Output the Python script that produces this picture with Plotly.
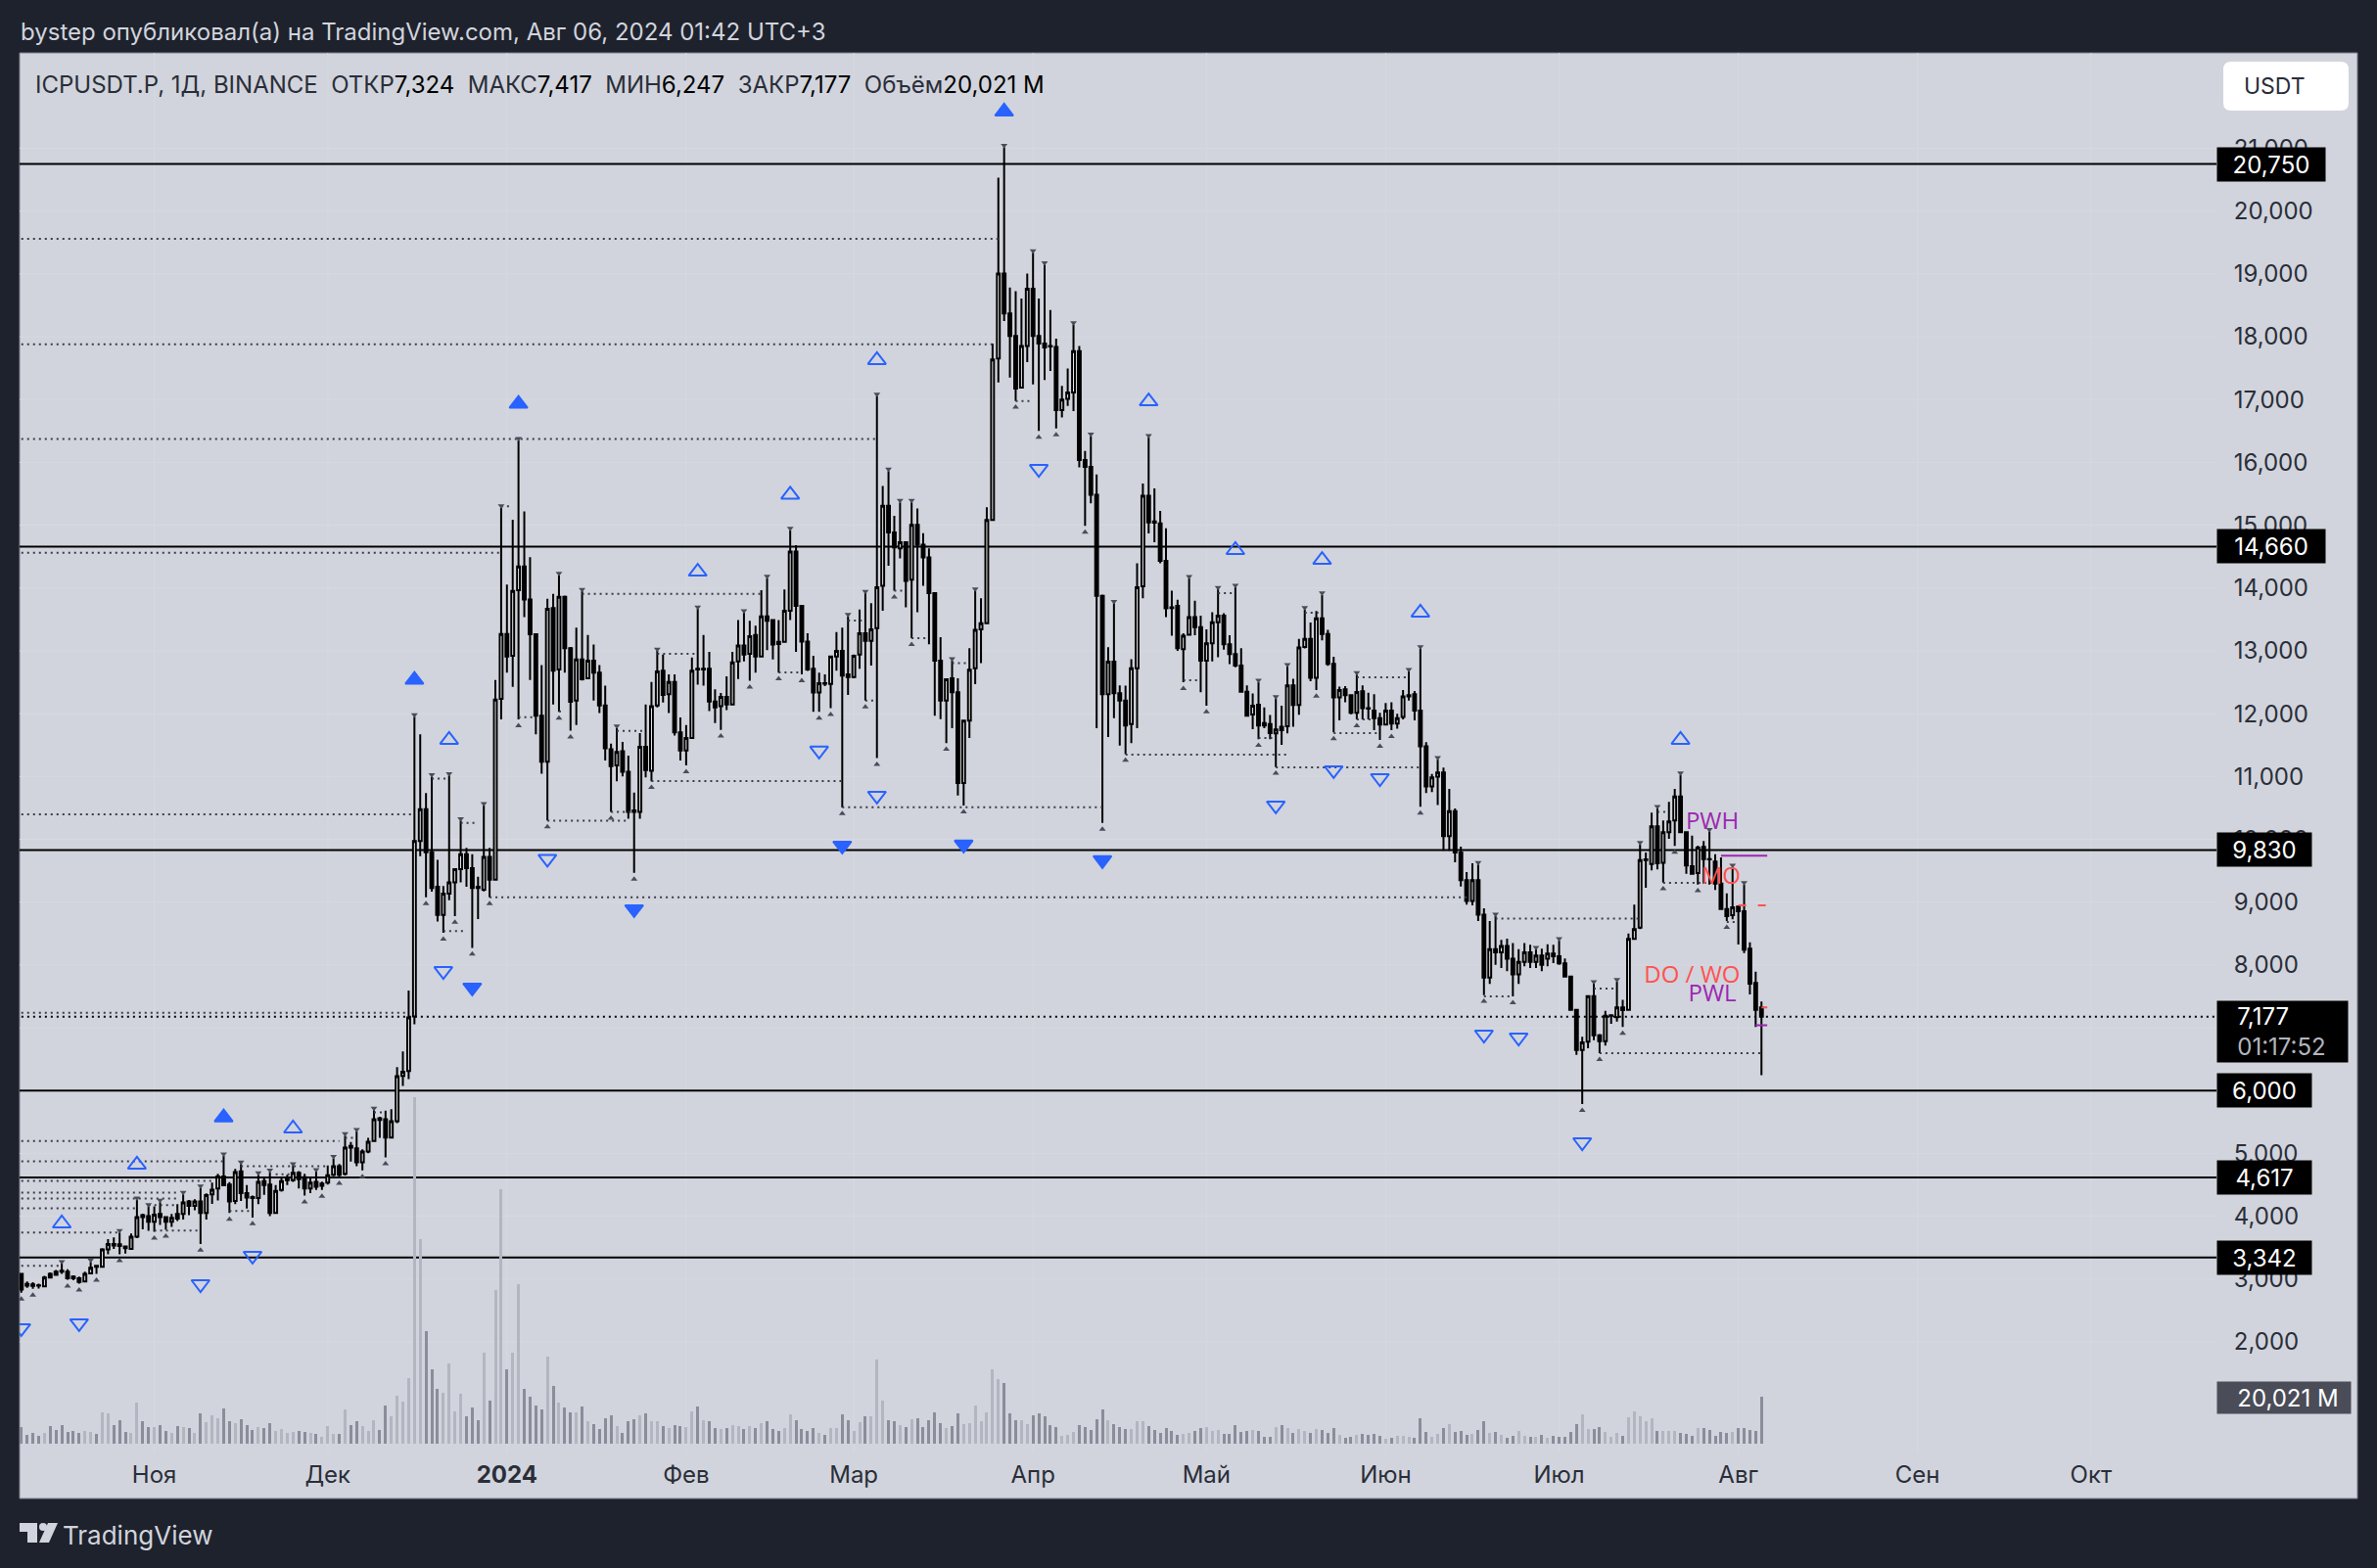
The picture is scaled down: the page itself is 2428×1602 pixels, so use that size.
import pandas as pd
import plotly.graph_objects as go

# daily bars, first visible bar is 2023-10-09, last one is the live 2024-08-05 bar
opens = [
    3082, 2921, 2915, 2900, 2885, 3082, 3118, 3134, 3118, 3040, 3014, 2962, 3092, 3212, 3196, 3471, 3559, 3554, 3518, 3481,
    3674, 4016, 4000, 3912, 4037, 3985, 3912, 4037, 4037, 4234, 4167, 4234, 4052, 4348, 4442, 4634, 4504, 4244, 4713, 4366,
    4306, 4288, 4558, 4506, 4054, 4418, 4573, 4573, 4693, 4620, 4443, 4547, 4485, 4537, 4661, 4796, 4677, 5118, 5082, 4859,
    5030, 5196, 5559, 5544, 5253, 5513, 6234, 6312, 7179, 9971, 10478, 9793, 9244, 8797, 9137, 9316, 9525, 9763, 9542, 9244,
    9197, 9721, 9357, 12237, 13268, 12923, 13966, 14342, 13817, 13263, 11969, 11235, 13680, 12702, 13859, 13042, 12207, 12863, 12565, 12845,
    12654, 12130, 11432, 11176, 11402, 11075, 10460, 10437, 11474, 11092, 12130, 12684, 12309, 12505, 11701, 11414, 11611, 12714, 12702, 12714,
    12195, 12118, 12267, 12148, 12833, 13084, 12953, 13251, 12911, 13549, 13489, 13143, 13143, 13638, 14580, 13716, 13149, 12714, 12338, 12487,
    12475, 12911, 13000, 12625, 12583, 12940, 13280, 13161, 13360, 14036, 15308, 14886, 14631, 14727, 14131, 15006, 14688, 14489, 13917, 12843,
    12207, 12565, 12342, 10896, 11889, 12724, 13344, 13440, 15085, 17653, 19005, 18369, 18011, 17192, 17852, 18766, 18011, 17891, 17852, 17836,
    16834, 17012, 17112, 17772, 16039, 15928, 15483, 13877, 12311, 12827, 12327, 12207, 11834, 12724, 14028, 15467, 15061, 15029, 14433, 13694,
    13717, 13026, 13257, 13535, 13376, 12843, 13122, 13455, 13559, 13106, 12947, 12764, 12350, 11985, 12144, 11850, 11834, 11686, 11790, 11801,
    12450, 12138, 13062, 13192, 12569, 13519, 13270, 12793, 12258, 12387, 12294, 12013, 12356, 12086, 12050, 11930, 11826, 12050, 11842, 11946,
    12273, 12310, 12050, 11479, 10840, 10996, 11063, 10050, 10450, 9790, 9350, 9020, 9350, 8800, 7800, 8250, 8200, 8300, 8100, 7850,
    8050, 8200, 8050, 8150, 8100, 8180, 8138, 8024, 7816, 7287, 6648, 6778, 7505, 6882, 6788, 7193, 7167, 7323, 7287, 8414,
    8595, 9670, 9608, 10205, 9628, 10112, 10299, 10683, 10112, 9572, 9463, 9878, 9686, 9645, 9296, 8891, 8793, 8928, 8855, 8258,
    7713, 7324,
]
highs = [
    3092, 2963, 2950, 2925, 3051, 3105, 3144, 3248, 3155, 3060, 3040, 3118, 3274, 3225, 3492, 3637, 3663, 3741, 3535, 3725,
    4260, 4042, 4156, 4156, 4224, 4000, 4037, 4193, 4348, 4260, 4270, 4452, 4364, 4535, 4675, 4961, 4545, 4753, 4831, 4495,
    4330, 4661, 4625, 4703, 4495, 4625, 4661, 4807, 4720, 4677, 4625, 4713, 4550, 4807, 4921, 4833, 5284, 5180, 5352, 5066,
    5248, 5689, 5585, 5679, 5705, 6374, 6623, 7594, 11951, 11671, 10735, 10997, 9673, 9256, 11015, 9540, 10299, 9864, 9763, 9405,
    10538, 9864, 12535, 15278, 14055, 15087, 16351, 15218, 14491, 13280, 12774, 13829, 13906, 14205, 13880, 13060, 13370, 13948, 13251, 13102,
    12774, 12446, 11522, 11772, 11551, 11331, 10746, 11689, 12148, 12505, 12998, 12941, 12625, 12625, 11939, 11820, 12893, 13668, 13251, 12982,
    12386, 12330, 12595, 12982, 13489, 13608, 13477, 13400, 13966, 14157, 13505, 13489, 13978, 14920, 14682, 13730, 13280, 12923, 12654, 12625,
    12925, 13298, 13370, 13549, 12940, 13656, 13917, 13757, 17057, 15626, 15864, 15149, 15363, 14745, 15363, 15268, 14871, 14632, 13935, 13217,
    12560, 12843, 12565, 11900, 13042, 13956, 13837, 15284, 17892, 20531, 21016, 18782, 18726, 18607, 19005, 19338, 18607, 19148, 18424, 17971,
    17216, 17494, 18194, 17852, 16182, 16421, 15809, 13895, 13058, 13757, 12450, 12446, 12867, 14394, 15665, 16397, 15586, 15228, 14950, 13956,
    13813, 13280, 14155, 13797, 13559, 13344, 13614, 13980, 13599, 13250, 14012, 13042, 12450, 12320, 12501, 12100, 11980, 12242, 12128, 12751,
    12554, 13192, 13660, 13452, 13634, 13893, 13333, 12907, 12430, 12439, 12310, 12621, 12450, 12335, 12310, 12013, 12170, 12180, 12000, 12377,
    12673, 12361, 13037, 11546, 11040, 11271, 11140, 10804, 10492, 9885, 9480, 9620, 9600, 8900, 8700, 8780, 8400, 8420, 8350, 8250,
    8350, 8320, 8250, 8260, 8330, 8320, 8388, 8102, 7830, 7300, 6856, 7520, 7702, 6900, 7271, 7210, 7739, 7443, 8502, 8959,
    9920, 9790, 10423, 10491, 10300, 10595, 10803, 11026, 10130, 10060, 9900, 9972, 10127, 9764, 9712, 9141, 9556, 8950, 9281, 8362,
    7894, 7417,
]
lows = [
    2781, 2859, 2845, 2850, 2874, 3014, 3056, 3082, 2988, 2980, 2926, 2950, 3082, 3082, 3186, 3393, 3481, 3393, 3404, 3466,
    3653, 3793, 3767, 3751, 3860, 3782, 3829, 3923, 3949, 4016, 4094, 3559, 3949, 4198, 4250, 4480, 4052, 4193, 4244, 4122,
    3979, 4194, 4340, 4002, 4040, 4390, 4495, 4547, 4443, 4329, 4366, 4420, 4417, 4505, 4635, 4625, 4650, 4869, 4796, 4729,
    5004, 5180, 5248, 4936, 5240, 5481, 6073, 6182, 7054, 9733, 9077, 9167, 8690, 8511, 9030, 8779, 9316, 9244, 8272, 8731,
    9170, 9077, 9345, 11909, 12654, 12428, 11909, 13537, 12535, 11671, 11045, 10299, 12148, 12028, 12654, 11730, 11820, 12530, 12550, 12207,
    12010, 11253, 10437, 10925, 11000, 10329, 9465, 10329, 10985, 10925, 12100, 12177, 12010, 11653, 11253, 11176, 11600, 12463, 12446, 12040,
    11850, 11742, 12058, 12135, 12553, 12833, 12523, 12654, 12895, 13012, 12863, 12654, 13130, 13489, 12982, 12625, 12680, 12028, 12028, 12440,
    12088, 12684, 10508, 12297, 12565, 12714, 12207, 12764, 11293, 13638, 14354, 13956, 14473, 13694, 13201, 13614, 14036, 13106, 11969, 11913,
    11532, 11770, 10697, 10538, 11611, 12470, 12804, 13425, 15070, 17271, 18249, 17351, 16977, 17175, 17597, 17240, 16500, 17311, 17454, 16540,
    16715, 16898, 16818, 15920, 14990, 15347, 11770, 10260, 11627, 11929, 11492, 11357, 11532, 11770, 13837, 14870, 14727, 14394, 13535, 13241,
    13000, 12501, 13240, 13250, 12343, 12128, 12830, 12899, 13020, 12788, 12740, 12340, 11950, 11754, 11595, 11770, 11595, 11151, 11505, 11686,
    11790, 11982, 13040, 12517, 12377, 13166, 12761, 11702, 11894, 12180, 11990, 11909, 11909, 11909, 11738, 11582, 11810, 11738, 11760, 11910,
    12210, 11894, 10518, 10736, 10750, 10544, 9817, 9817, 9635, 9250, 8960, 8950, 8700, 7520, 7700, 8000, 7950, 7900, 7500, 7700,
    7980, 7950, 7950, 7900, 7980, 8030, 8000, 7800, 7270, 6570, 5786, 6674, 6804, 6596, 6715, 7063, 7100, 7012, 7270, 8400,
    8570, 9229, 9504, 9520, 9312, 10008, 9894, 10100, 9452, 9440, 9281, 9296, 9280, 9193, 8880, 8699, 8725, 8325, 8190, 7531,
    7012, 6247,
]
closes = [
    2833, 2895, 2890, 2895, 3025, 3025, 3066, 3118, 3014, 3014, 2952, 3082, 3180, 3196, 3471, 3559, 3533, 3528, 3492, 3674,
    3985, 3985, 3912, 4026, 3985, 3912, 3975, 3964, 4218, 4167, 4234, 4052, 4338, 4421, 4634, 4494, 4234, 4701, 4366, 4298,
    4290, 4547, 4495, 4054, 4402, 4558, 4590, 4693, 4589, 4443, 4537, 4469, 4521, 4651, 4796, 4661, 5092, 5092, 4859, 5030,
    5186, 5544, 5533, 5253, 5513, 6229, 6301, 7163, 9971, 10478, 9793, 9226, 8797, 9137, 9316, 9525, 9763, 9542, 9226, 9226,
    9721, 9357, 12225, 13268, 12911, 13954, 14342, 13817, 13263, 11969, 11235, 13668, 12684, 13859, 13042, 12189, 12863, 12547, 12845, 12654,
    12130, 11450, 11164, 11390, 11075, 10437, 10437, 11474, 11104, 12118, 12672, 12297, 12505, 11701, 11414, 11611, 12684, 12702, 12714, 12195,
    12100, 12267, 12148, 12815, 13084, 12941, 13233, 12911, 13549, 13477, 13102, 13108, 13638, 14580, 13716, 13149, 12702, 12338, 12487, 12477,
    12911, 13000, 12607, 12583, 12923, 13280, 13161, 13344, 14012, 15308, 14886, 14648, 14727, 14115, 15006, 14688, 14489, 13917, 12843, 12207,
    12549, 12342, 10896, 11889, 12700, 13336, 13440, 15085, 17637, 19005, 18369, 18011, 17176, 17852, 18766, 18011, 17891, 17828, 17844, 16834,
    17001, 17112, 17772, 16039, 15928, 15483, 13877, 12311, 12827, 12327, 12207, 11810, 12724, 14012, 15467, 15045, 15040, 14433, 13678, 13680,
    13042, 13241, 13535, 13376, 12843, 13122, 13455, 13559, 13106, 12947, 12764, 12350, 11969, 12128, 11810, 11810, 11690, 11749, 11738, 12450,
    12138, 13052, 13192, 12569, 13519, 13270, 12793, 12258, 12377, 12294, 12013, 12346, 12086, 12080, 11930, 11826, 12050, 11842, 11930, 12273,
    12294, 12050, 11479, 10840, 10985, 11063, 10050, 10450, 9791, 9350, 9020, 9350, 8800, 7800, 8250, 8200, 8300, 8100, 7850, 8050,
    8200, 8050, 8150, 8000, 8180, 8138, 8024, 7816, 7287, 6648, 6768, 7505, 6882, 6788, 7193, 7200, 7323, 7282, 8414, 8570,
    9670, 9680, 10205, 9619, 10112, 10283, 10683, 10112, 9582, 9452, 9868, 9686, 9680, 9296, 8891, 8777, 8917, 8855, 8242, 7702,
    7287, 7177,
]
# in thousands of millions, so the last bar is the 20,021 M of the legend
volumes = [
    7.0, 3.8, 4.4, 3.5, 4.6, 7.4, 5.8, 7.9, 4.9, 5.4, 4.6, 5.3, 4.9, 4.0, 13.2, 12.9, 7.9, 10.0, 4.9, 4.6,
    17.4, 9.6, 7.1, 7.1, 7.9, 5.4, 4.6, 7.5, 7.2, 6.7, 4.6, 12.9, 9.0, 12.1, 10.7, 15.0, 9.7, 8.8, 10.4, 7.9,
    5.8, 7.1, 6.7, 8.8, 5.4, 6.3, 4.6, 4.9, 5.3, 4.9, 4.6, 4.0, 2.9, 7.5, 4.2, 4.2, 14.6, 7.9, 9.6, 7.5,
    5.4, 10.0, 5.8, 16.3, 11.7, 20.4, 17.9, 27.9, 147.6, 87.2, 48.0, 31.7, 23.4, 21.7, 34.2, 13.8, 21.3, 11.7, 15.4, 10.0,
    38.8, 18.3, 65.5, 108.4, 31.7, 38.8, 68.0, 23.4, 20.0, 16.3, 14.6, 37.1, 24.6, 17.5, 15.4, 13.3, 13.3, 15.8, 9.6, 8.3,
    6.3, 10.7, 12.1, 7.5, 4.6, 9.6, 10.4, 12.1, 12.9, 9.6, 9.6, 7.5, 6.7, 7.9, 7.5, 7.1, 13.8, 15.8, 10.0, 9.6,
    6.7, 6.3, 6.7, 7.9, 7.5, 6.3, 7.5, 6.7, 8.8, 9.6, 6.3, 5.4, 6.7, 12.5, 10.0, 6.3, 5.4, 6.7, 4.6, 3.8,
    6.7, 6.7, 12.5, 10.0, 5.4, 9.2, 11.7, 11.7, 35.9, 18.3, 10.0, 9.6, 7.9, 7.1, 10.4, 10.8, 7.1, 10.0, 13.3, 8.8,
    6.7, 7.5, 12.9, 8.3, 8.8, 16.3, 9.6, 13.3, 31.7, 27.5, 25.9, 12.9, 10.0, 10.0, 8.3, 12.1, 12.9, 11.7, 7.9, 7.1,
    3.3, 3.8, 5.0, 7.9, 7.1, 5.8, 10.4, 14.6, 10.0, 8.3, 7.1, 6.3, 6.3, 9.6, 9.6, 7.5, 5.8, 4.6, 6.7, 5.4,
    3.8, 4.2, 4.6, 5.4, 6.7, 7.1, 5.4, 5.8, 4.2, 4.2, 7.9, 5.0, 5.4, 5.8, 5.4, 2.9, 2.9, 7.1, 7.9, 6.7,
    4.6, 6.3, 5.4, 4.6, 6.3, 5.8, 4.6, 6.7, 3.8, 2.5, 2.9, 3.8, 4.2, 3.8, 4.2, 3.3, 2.1, 2.5, 3.3, 3.3,
    2.9, 2.5, 10.8, 5.0, 2.9, 4.2, 6.7, 8.3, 5.0, 5.4, 3.8, 4.2, 5.8, 9.6, 4.6, 5.0, 3.8, 2.5, 3.3, 5.4,
    3.3, 2.9, 2.9, 3.8, 2.5, 3.3, 2.9, 2.9, 5.0, 8.3, 12.5, 6.3, 6.3, 7.1, 5.0, 2.9, 4.6, 3.3, 11.3, 13.8,
    11.7, 9.6, 10.8, 5.4, 5.4, 5.4, 5.4, 4.6, 4.2, 3.3, 6.7, 6.7, 5.8, 3.3, 5.0, 4.6, 5.0, 6.7, 6.7, 5.8,
    5.4, 20.021,
]

# drawn horizontal levels and their labels on the scale
key_levels = [20750, 14660, 9830, 6000, 4617, 3342]
key_labels = ["20,750", "14,660", "9,830", "6,000", "4,617", "3,342"]

# dotted liquidity levels: first bar, last bar, price
dot_start = [0, 0, 0, 0, 0, 0, 0, 0, 0, 0, 0, 0, 0, 0, 38, 44, 36, 22, 23, 61, 56, 81, 97, 110, 131, 103, 109, 91, 102,
             142, 143, 151, 154, 161, 146, 172, 191, 217, 227, 231, 201, 207, 222, 214, 231, 255, 253, 272, 273, 284, 295, 283,
             76, 71, 73, 83, 86, 93]
dot_end = [169, 168, 148, 83, 68, 55, 35, 33, 27, 27, 20, 17, 7, 67, 53, 47, 40, 27, 31, 63, 58, 250, 128, 117, 135, 108, 142, 105, 106,
           187, 146, 153, 157, 164, 148, 175, 219, 242, 235, 240, 204, 210, 225, 217, 234, 280, 258, 276, 301, 293, 297, 285,
           79, 74, 77, 85, 89, 94]
dot_price = [19558, 17881, 16372, 14562, 10396, 5198, 4875, 4564, 4377, 4284, 4128, 3740, 3210, 7240, 4798, 4667, 4084, 4177, 3772, 5655, 5247, 9076, 13906, 12953, 12657, 11724, 10927, 10296, 10437,
             10509, 13482, 13959, 13200, 12805, 12210, 16977, 11348, 11146, 11690, 12579, 12532, 13918, 13606, 11613, 11908, 8740, 7499, 7624, 6596, 9305, 8684, 10436,
             10260, 10966, 8540, 15300, 11942, 12036]

# bars that carry a small swing high / swing low mark
swing_high_bars = [7, 12, 17, 20, 22, 24, 28, 31, 35, 38, 41, 43, 47, 51, 54, 56, 58, 61, 68, 71, 74, 76, 80, 83, 86, 93, 97, 103, 110, 117, 125, 129, 133, 143,
                   146, 148, 150, 152, 154, 161, 165, 170, 175, 177, 182, 185, 189, 195, 202, 207, 210, 214, 217, 219, 222, 225, 231, 240, 242, 245, 252, 255, 262,
                   266, 272, 276, 280, 283, 287, 292, 296, 298]
swing_low_bars = [0, 2, 8, 10, 13, 17, 23, 25, 31, 36, 40, 49, 52, 55, 59, 63, 70, 73, 75, 78, 81, 86, 91, 93, 95, 102, 106, 109, 115, 121, 126, 131, 135, 138, 140, 142,
                  146, 148, 151, 154, 160, 163, 172, 176, 179, 184, 187, 191, 201, 205, 214, 217, 224, 227, 231, 235, 237, 242, 253, 258, 270, 273, 277, 284, 286, 290, 295]

# blue structure triangles
up_filled_bars = [35, 68, 86, 170]
up_filled_price = [5572, 12538, 16933, 21584]
up_open_bars = [7, 20, 47, 74, 117, 133, 148, 195, 210, 225, 242, 287]
up_open_price = [3885, 4820, 5396, 11582, 14261, 15485, 17627, 16972, 14604, 14448, 13608, 11582]
down_filled_bars = [78, 106, 142, 163, 187]
down_filled_price = [7640, 8887, 9900, 9918, 9669]
down_open_bars = [0, 10, 31, 40, 73, 91, 138, 148, 176, 217, 227, 235, 253, 259, 270]
down_open_price = [2218, 2296, 2919, 3371, 7904, 9689, 11413, 10694, 15897, 10538, 11100, 10974, 6892, 6845, 5178]

# session labels and their short lines at the right of the last bar
label_text = ["PWH", "MO", "DO / WO", "PWL"]
label_bar = [292.5, 294, 289, 292.5]
label_price = [10250, 9390, 7817, 7513]
label_color = ["#9c27b0", "#ff5252", "#ff5252", "#9c27b0"]
pwh_price, mo_price, do_price, pwl_price = 9740, 8950, 7324, 7040

month_ticks = ["2023-11-01", "2023-12-01", "2024-01-01", "2024-02-01", "2024-03-01", "2024-04-01",
               "2024-05-01", "2024-06-01", "2024-07-01", "2024-08-01", "2024-09-01", "2024-10-01"]
month_labels = ["Ноя", "Дек", "<b>2024</b>", "Фев", "Мар", "Апр", "Май", "Июн", "Июл", "Авг", "Сен", "Окт"]
price_ticks = list(range(2000, 22000, 1000))

W, H = 2428, 1602
LEFT, RIGHT, TOP, BOTTOM = 20, 2264, 54, 1484  # plot box in page pixels
PANE_R, PANE_B = 2408, 1531
FRAME = "#1e222d"
PANE = "#d1d4dc"
FONT = "Inter"
INK = "#2a2e39"
GRID = "#d6d9e0"

dates = pd.date_range("2023-10-09", periods=len(closes), freq="D")


def bar_date(i):
    return (dates[0] + pd.Timedelta(days=i)).round("s")


def px(x):
    return (x - LEFT) / (RIGHT - LEFT)


def py(y):
    return 1 - (y - TOP) / (BOTTOM - TOP)


def page_rect(x0, y0, x1, y1, color):
    return dict(type="rect", xref="paper", yref="paper", x0=px(x0), x1=px(x1), y0=py(y0), y1=py(y1),
                fillcolor=color, line_width=0, layer="below")


def page_poly(points, color):
    d = "M" + " L".join(f"{px(a):.5f},{py(b):.5f}" for a, b in points) + " Z"
    return dict(type="path", xref="paper", yref="paper", path=d, fillcolor=color, line_width=0, layer="above")


def page_label(x, y, text, size=24, color=INK, anchor="left", **kw):
    return dict(xref="paper", yref="paper", x=px(x), y=py(y), text=text, showarrow=False, xanchor=anchor,
                yanchor="middle", font=dict(family=FONT, size=size, color=color), **kw)


fig = go.Figure()

vol_colors = ["#8b8d9b" if c < o else "#b3b5c0" for o, c in zip(opens, closes)]
fig.add_trace(go.Bar(x=dates, y=volumes, marker=dict(color=vol_colors, line_width=0), width=3 * 86400000 / 5.905,
                     yaxis="y", hoverinfo="skip"))

fig.add_trace(go.Candlestick(
    x=dates, open=opens, high=highs, low=lows, close=closes, yaxis="y2", whiskerwidth=0,
    increasing=dict(line=dict(color="#000000", width=2), fillcolor="#ffffff"),
    decreasing=dict(line=dict(color="#000000", width=2), fillcolor="#000000"),
))

# dotted levels, one trace with gaps
dot_x, dot_y = [], []
for a, b, p in zip(dot_start, dot_end, dot_price):
    dot_x += [bar_date(a), bar_date(b), None]
    dot_y += [p, p, None]
fig.add_trace(go.Scatter(x=dot_x, y=dot_y, mode="lines", yaxis="y2", hoverinfo="skip",
                         line=dict(color="#3a3d48", width=2, dash="2px,4px")))

# last price line
fig.add_trace(go.Scatter(x=[bar_date(-1), bar_date(380)], y=[closes[-1], closes[-1]], mode="lines", yaxis="y2",
                         hoverinfo="skip", line=dict(color="#000000", width=2, dash="2px,4px")))

# short lines of the session levels
for price, start, color, dash in [(pwh_price, 294, "#9c27b0", "solid"), (mo_price, 297, "#ff5252", "8px,12px"),
                                  (do_price, 301, "#ff5252", "solid"), (pwl_price, 300, "#9c27b0", "solid")]:
    fig.add_trace(go.Scatter(x=[bar_date(start), bar_date(302)], y=[price, price], mode="lines", yaxis="y2",
                             hoverinfo="skip", line=dict(color=color, width=2, dash=dash)))

# swing marks sit just off the wick
fig.add_trace(go.Scatter(x=[dates[i] for i in swing_high_bars], y=[highs[i] + 30 for i in swing_high_bars],
                         mode="markers", yaxis="y2", hoverinfo="skip",
                         marker=dict(symbol="triangle-down", size=6, color="#4a4c58")))
fig.add_trace(go.Scatter(x=[dates[i] for i in swing_low_bars], y=[lows[i] - 100 for i in swing_low_bars],
                         mode="markers", yaxis="y2", hoverinfo="skip",
                         marker=dict(symbol="triangle-up", size=6, color="#4a4c58")))

for bars, prices, symbol in [(up_filled_bars, up_filled_price, "triangle-up"),
                             (up_open_bars, up_open_price, "triangle-up-open"),
                             (down_filled_bars, down_filled_price, "triangle-down"),
                             (down_open_bars, down_open_price, "triangle-down-open")]:
    fig.add_trace(go.Scatter(x=[dates[i] for i in bars], y=prices, mode="markers", yaxis="y2", hoverinfo="skip",
                             marker=dict(symbol=symbol, size=16, color="#2962ff", line=dict(color="#2962ff", width=2))))

fig.add_trace(go.Scatter(x=[bar_date(i) for i in label_bar], y=label_price, mode="text", text=label_text, yaxis="y2",
                         textposition="middle center", hoverinfo="skip",
                         textfont=dict(family="Open Sans", size=24, color=label_color)))

shapes = [
    page_rect(0, 0, W, TOP, FRAME),
    page_rect(0, 0, LEFT, H, FRAME),
    page_rect(PANE_R, 0, W, H, FRAME),
    page_rect(0, PANE_B, W, H, FRAME),
    dict(type="rect", xref="paper", yref="paper", x0=px(LEFT), x1=px(PANE_R), y0=py(TOP), y1=py(PANE_B),
         fillcolor="rgba(0,0,0,0)", line=dict(color="#7c7f8a", width=1), layer="below"),
    # USDT button
    dict(type="path", xref="paper", yref="paper", fillcolor="#ffffff", line_width=0, layer="above",
         path=f"M{px(2279)},{py(63)} L{px(2391)},{py(63)} Q{px(2399)},{py(63)} {px(2399)},{py(71)} "
              f"L{px(2399)},{py(105)} Q{px(2399)},{py(113)} {px(2391)},{py(113)} L{px(2279)},{py(113)} "
              f"Q{px(2271)},{py(113)} {px(2271)},{py(105)} L{px(2271)},{py(71)} Q{px(2271)},{py(63)} {px(2279)},{py(63)} Z"),
    # TradingView logo
    page_poly([(20, 1556), (38, 1556), (38, 1576), (28, 1576), (28, 1565), (20, 1565)], "#d1d4dc"),
    page_poly([(49, 1556), (59, 1556), (50, 1576), (40, 1576)], "#d1d4dc"),
    dict(type="circle", xref="paper", yref="paper", x0=px(40), x1=px(48), y0=py(1556), y1=py(1564),
         fillcolor="#d1d4dc", line_width=0, layer="above"),
]
# grid goes in as shapes so the black levels can sit on top of it, under the candles
for tick in price_ticks:
    shapes.append(dict(type="line", xref="x domain", yref="y2", x0=0, x1=1, y0=tick, y1=tick,
                       line=dict(color=GRID, width=1), layer="below"))
for tick in month_ticks:
    shapes.append(dict(type="line", xref="x", yref="y2 domain", x0=tick, x1=tick, y0=0, y1=1,
                       line=dict(color=GRID, width=1), layer="below"))
for level in key_levels:
    shapes.append(dict(type="line", xref="x domain", yref="y2", x0=0, x1=1, y0=level, y1=level,
                       line=dict(color="#000000", width=2), layer="below"))

ohlc_line = ('ICPUSDT.P, 1Д, BINANCE  ОТКР<span style="color:#000000">7,324</span>  '
             'МАКС<span style="color:#000000">7,417</span>  МИН<span style="color:#000000">6,247</span>  '
             'ЗАКР<span style="color:#000000">7,177</span>  Объём<span style="color:#000000">20,021 M</span>')

annotations = [
    page_label(19, 32, "bystep опубликовал(а) на TradingView.com, Авг 06, 2024 01:42 UTC+3", color="#d1d4dc"),
    page_label(34, 86, ohlc_line),
    page_label(2290, 88, "USDT", size=23),
    page_label(62, 1568, "TradingView", size=26, color="#d1d4dc"),
    page_label(2264, 1054, "\u00a0\u00a0\u00a07,177<br><span style=\"color:#b2b5be\">\u00a0\u00a0\u00a001:17:52</span>",
               color="#ffffff", bgcolor="#000000", width=133, height=62, align="left", borderpad=0),
    page_label(2264, 1428, "\u00a0\u00a0\u00a020,021 M", color="#ffffff", bgcolor="#4a4c58", width=136, height=32,
               align="left", borderpad=0),
]
for level, text in zip(key_levels, key_labels):
    annotations.append(dict(xref="paper", yref="y2", x=1, y=level, text=text, showarrow=False, xanchor="left",
                            yanchor="middle", width=110 if len(text) > 5 else 96, height=34, borderpad=0,
                            bgcolor="#000000", align="center", font=dict(family=FONT, size=24, color="#ffffff")))

fig.update_layout(
    width=W, height=H, autosize=False, showlegend=False, bargap=0,
    paper_bgcolor=PANE, plot_bgcolor=PANE,
    margin=dict(l=LEFT, r=W - RIGHT, t=TOP, b=H - BOTTOM, pad=0),
    shapes=shapes, annotations=annotations,
    xaxis=dict(type="date", range=[bar_date(-0.3), bar_date(379.7)], tickmode="array", tickvals=month_ticks,
               ticktext=month_labels, tickfont=dict(family=FONT, size=24, color=INK), showgrid=False,
               ticks="outside", ticklen=1, tickcolor="rgba(0,0,0,0)", zeroline=False, showline=False,
               rangeslider=dict(visible=False)),
    yaxis=dict(range=[-3.75, 592.6], showticklabels=False, showgrid=False, zeroline=False, showline=False),
    yaxis2=dict(range=[239, 22519], overlaying="y", side="right", tickmode="array", tickvals=price_ticks,
                tickformat=",d", tickfont=dict(family=FONT, size=24, color=INK), showgrid=False,
                ticks="outside", ticklen=12, tickcolor="rgba(0,0,0,0)", zeroline=False, showline=False),
)

fig.write_html("out.html", config={"displayModeBar": False}, post_script="document.body.style.margin='0';")
